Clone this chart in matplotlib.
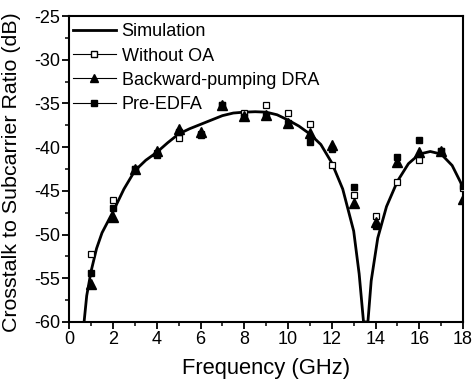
import matplotlib
matplotlib.use("Agg")
import matplotlib.pyplot as plt
from matplotlib.lines import Line2D
from matplotlib.ticker import MultipleLocator

plt.rcParams['font.family'] = ['Liberation Sans', 'DejaVu Sans']
plt.rcParams['axes.unicode_minus'] = False

# Simulation curve
sim_f = [0.68, 0.8, 1.0, 1.25, 1.5, 2.0, 2.5, 3.0, 3.5, 4.0, 4.5, 5.0, 5.5, 6.0, 6.5,
         7.0, 7.5, 8.0, 8.5, 9.0, 9.5, 10.0, 10.5, 11.0, 11.5, 12.0, 12.5, 13.0,
         13.25, 13.45, 13.65, 13.8, 14.1, 14.5, 15.0, 15.5, 16.0, 16.5, 17.0, 17.5, 18.0]
sim_db = [-60, -57.0, -54.2, -51.6, -49.8, -47.4, -44.8, -42.7, -41.5, -40.6, -39.5,
          -38.5, -37.9, -37.4, -36.9, -36.4, -36.1, -36.0, -35.95, -36.0, -36.3, -36.9,
          -37.6, -38.5, -39.7, -41.8, -44.8, -49.6, -54.5, -60, -60, -55.3, -50.4,
          -46.8, -43.9, -41.9, -40.8, -40.5, -40.8, -42.1, -44.6]

freq = [1, 2, 3, 4, 5, 6, 7, 8, 9, 10, 11, 12, 13, 14, 15, 16, 17, 18]
without_oa = [-52.2, -46.1, -42.5, -40.7, -38.9, -38.5, -35.2, -36.1, -35.2, -36.1,
              -37.4, -42.0, -45.5, -47.9, -44.0, -41.5, -40.5, -44.7]
backward_dra = [-55.7, -48.0, -42.5, -40.5, -37.9, -38.3, -35.2, -36.4, -36.3, -37.2,
                -38.4, -39.8, -46.4, -48.6, -41.7, -40.6, -40.5, -45.9]
pre_edfa = [-54.4, -47.0, -42.5, -40.9, -38.3, -38.6, -35.2, -36.6, -36.4, -37.2,
            -39.4, -40.2, -44.6, -49.0, -41.1, -39.2, -40.5, -44.4]

fig = plt.figure(figsize=(4.74, 3.81), dpi=100)
ax = fig.add_axes([0.146, 0.155, 0.831, 0.803])

ax.plot(sim_f, sim_db, color='black', lw=2.0, zorder=2)
ax.plot(freq, without_oa, ls='none', marker='s', ms=5, mfc='white', mec='black', mew=0.9, zorder=3)
ax.plot(freq, backward_dra, ls='none', marker='^', ms=6.5, color='black', zorder=4)
ax.plot(freq, pre_edfa, ls='none', marker='s', ms=5, color='black', zorder=5)

ax.set_xlim(0, 18)
ax.set_ylim(-60, -25)
ax.xaxis.set_major_locator(MultipleLocator(2))
ax.xaxis.set_minor_locator(MultipleLocator(1))
ax.yaxis.set_major_locator(MultipleLocator(5))
ax.yaxis.set_minor_locator(MultipleLocator(2.5))
ax.tick_params(which='major', direction='out', length=5, width=1.3, labelsize=13, pad=1.5)
ax.tick_params(which='minor', direction='out', length=3, width=1.1)
for s in ax.spines.values():
    s.set_linewidth(1.5)

ax.set_xlabel('Frequency (GHz)', fontsize=15.8)
ax.set_ylabel('Crosstalk to Subcarrier Ratio (dB)', fontsize=15.4)
ax.xaxis.set_label_coords(0.5, -0.118)
ax.yaxis.set_label_coords(-0.122, 0.49)

handles = [
    Line2D([], [], color='black', lw=2.0),
    Line2D([], [], color='black', lw=0.8, marker='s', ms=5, mfc='white', mec='black'),
    Line2D([], [], color='black', lw=0.8, marker='^', ms=6),
    Line2D([], [], color='black', lw=0.8, marker='s', ms=5),
]
labels = ['Simulation', 'Without OA', 'Backward-pumping DRA', 'Pre-EDFA']
ax.legend(handles, labels, loc='upper left', frameon=False, fontsize=13,
          handlelength=2.4, handletextpad=0.3, labelspacing=0.4,
          borderaxespad=0.0, borderpad=0.2, bbox_to_anchor=(0.0, 0.988))

fig.savefig('out.png', dpi=100)
